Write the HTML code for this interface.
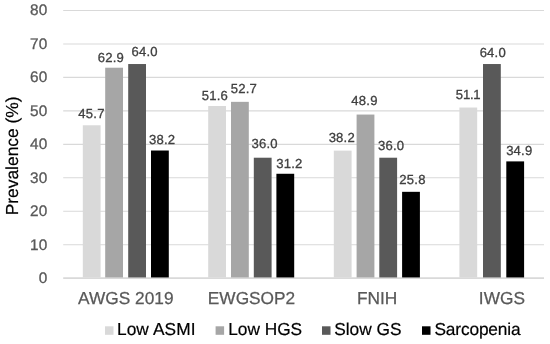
<!DOCTYPE html>
<html lang="en">
<head>
<meta charset="utf-8">
<title>Prevalence chart</title>
<style>
html,body{margin:0;padding:0;background:#ffffff;}
body{width:550px;height:344px;overflow:hidden;}
svg{display:block;}
text{font-family:"Liberation Sans",Arial,sans-serif;text-rendering:geometricPrecision;}
.tick{font-size:15.35px;fill:#595959;stroke:#595959;stroke-width:0.3px;text-anchor:end;}
.dl{font-size:13.1px;fill:#404040;stroke:#404040;stroke-width:0.3px;text-anchor:middle;letter-spacing:0.2px;}
.cat{font-size:17.3px;fill:#595959;stroke:#595959;stroke-width:0.25px;text-anchor:middle;}
.leg text{font-size:17.3px;fill:#000000;stroke:#000000;stroke-width:0.2px;}
.ttl{font-size:17.4px;fill:#000000;stroke:#000000;stroke-width:0.2px;text-anchor:middle;}
</style>
</head>
<body>
<svg width="550" height="344" viewBox="0 0 550 344">
<rect x="0" y="0" width="550" height="344" fill="#ffffff"/>
<g stroke="#d9d9d9" stroke-width="1.1" fill="none">
<line x1="63.2" y1="278.15" x2="544.0" y2="278.15" stroke-width="1.6"/>
<line x1="63.2" y1="244.69" x2="544.0" y2="244.69"/>
<line x1="63.2" y1="211.24" x2="544.0" y2="211.24"/>
<line x1="63.2" y1="177.78" x2="544.0" y2="177.78"/>
<line x1="63.2" y1="144.33" x2="544.0" y2="144.33"/>
<line x1="63.2" y1="110.87" x2="544.0" y2="110.87"/>
<line x1="63.2" y1="77.41" x2="544.0" y2="77.41"/>
<line x1="63.2" y1="43.96" x2="544.0" y2="43.96"/>
<line x1="63.2" y1="10.50" x2="544.0" y2="10.50"/>
</g>
<g>
<rect x="82.8" y="125.26" width="17.8" height="152.19" fill="#d9d9d9"/>
<rect x="105.2" y="67.71" width="17.8" height="209.74" fill="#a6a6a6"/>
<rect x="128.2" y="64.03" width="17.8" height="213.42" fill="#595959"/>
<rect x="151.0" y="150.52" width="17.8" height="126.93" fill="#000000"/>
<rect x="208.2" y="106.02" width="17.8" height="171.43" fill="#d9d9d9"/>
<rect x="231.0" y="101.84" width="17.8" height="175.61" fill="#a6a6a6"/>
<rect x="253.8" y="157.71" width="17.8" height="119.74" fill="#595959"/>
<rect x="276.4" y="173.77" width="17.8" height="103.68" fill="#000000"/>
<rect x="333.8" y="150.62" width="17.8" height="126.83" fill="#d9d9d9"/>
<rect x="356.6" y="114.55" width="17.8" height="162.90" fill="#a6a6a6"/>
<rect x="379.3" y="157.71" width="17.8" height="119.74" fill="#595959"/>
<rect x="402.1" y="191.83" width="17.8" height="85.62" fill="#000000"/>
<rect x="459.4" y="107.52" width="17.8" height="169.93" fill="#d9d9d9"/>
<rect x="483.0" y="64.03" width="17.8" height="213.42" fill="#595959"/>
<rect x="506.3" y="161.39" width="17.8" height="116.06" fill="#000000"/>
</g>
<g class="tick">
<text transform="translate(47.2,283.10) scale(1.0,1)">0</text>
<text transform="translate(47.2,249.64) scale(1.0,1)">10</text>
<text transform="translate(47.2,216.19) scale(1.0,1)">20</text>
<text transform="translate(47.2,182.73) scale(1.0,1)">30</text>
<text transform="translate(47.2,149.28) scale(1.0,1)">40</text>
<text transform="translate(47.2,115.82) scale(1.0,1)">50</text>
<text transform="translate(47.2,82.36) scale(1.0,1)">60</text>
<text transform="translate(47.2,48.91) scale(1.0,1)">70</text>
<text transform="translate(47.2,15.45) scale(1.0,1)">80</text>
</g>
<g class="dl">
<text x="91.5" y="117.9">45.7</text>
<text x="110.9" y="61.8">62.9</text>
<text x="144.7" y="56.4">64.0</text>
<text x="162.2" y="144.0">38.2</text>
<text x="214.9" y="100.3">51.6</text>
<text x="243.9" y="93.1">52.7</text>
<text x="264.6" y="148.3">36.0</text>
<text x="289.4" y="167.6">31.2</text>
<text x="341.8" y="141.6">38.2</text>
<text x="364.5" y="104.6">48.9</text>
<text x="391.2" y="150.3">36.0</text>
<text x="412.5" y="184.4">25.8</text>
<text x="468.1" y="98.6" letter-spacing="-0.25">51.1</text>
<text x="492.8" y="57.3">64.0</text>
<text x="519.3" y="154.7">34.9</text>
</g>
<g class="cat">
<text x="125.8" y="303.8">AWGS 2019</text>
<text x="251.5" y="303.8">EWGSOP2</text>
<text x="377.1" y="303.8">FNIH</text>
<text x="501.9" y="303.8">IWGS</text>
</g>
<g class="leg">
<rect x="105.0" y="326.3" width="8.5" height="8.5" fill="#d9d9d9"/>
<text x="116.9" y="335.2" letter-spacing="0.13">Low ASMI</text>
<rect x="215.6" y="326.3" width="8.5" height="8.5" fill="#a6a6a6"/>
<text x="228.2" y="335.2" letter-spacing="0">Low HGS</text>
<rect x="322.0" y="326.3" width="8.5" height="8.5" fill="#595959"/>
<text x="334.2" y="335.2" letter-spacing="0">Slow GS</text>
<rect x="422.0" y="326.3" width="8.5" height="8.5" fill="#000000"/>
<text x="434.4" y="335.2" letter-spacing="-0.13">Sarcopenia</text>
</g>
<text class="ttl" transform="translate(18.4,155.9) rotate(-90)" x="0" y="0">Prevalence (%)</text>
</svg>
</body>
</html>
